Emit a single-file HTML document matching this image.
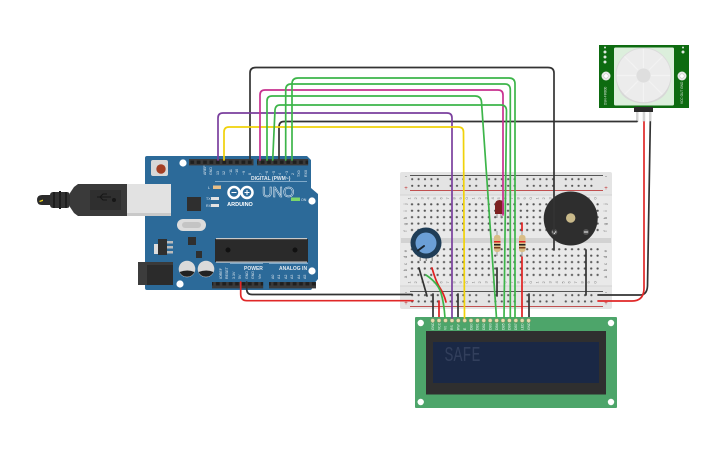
<!DOCTYPE html>
<html><head><meta charset="utf-8"><style>
html,body{margin:0;padding:0;background:#fff}
svg{display:block;font-family:"Liberation Sans",sans-serif}
.w{fill:none;stroke-width:1.7;stroke-linejoin:round;stroke-linecap:round}
</style></head><body>
<svg width="725" height="453" viewBox="0 0 725 453" xmlns="http://www.w3.org/2000/svg">
<defs>
<pattern id="main" patternUnits="userSpaceOnUse" x="408.8" y="201.1" width="6.4" height="6.42"><circle cx="3.2" cy="3.2" r="1.15" fill="#555"/></pattern>
<pattern id="rail" patternUnits="userSpaceOnUse" x="409" y="176" width="38.4" height="6.6"><g fill="#555"><circle cx="3.2" cy="3.2" r="1.1"/><circle cx="9.6" cy="3.2" r="1.1"/><circle cx="16" cy="3.2" r="1.1"/><circle cx="22.4" cy="3.2" r="1.1"/><circle cx="28.8" cy="3.2" r="1.1"/></g></pattern>
<pattern id="rail2" patternUnits="userSpaceOnUse" x="409" y="292" width="38.4" height="6.3"><g fill="#555"><circle cx="3.2" cy="3.2" r="1.1"/><circle cx="9.6" cy="3.2" r="1.1"/><circle cx="16" cy="3.2" r="1.1"/><circle cx="22.4" cy="3.2" r="1.1"/><circle cx="28.8" cy="3.2" r="1.1"/></g></pattern>
<pattern id="hdr" patternUnits="userSpaceOnUse" x="189" y="159" width="6.4" height="6.4"><rect width="6.4" height="6.4" fill="#3a3a3a"/><rect x="1.3" y="1.5" width="3.8" height="3.4" fill="#1f1f1f"/></pattern>
</defs>

<!-- USB plug -->
<path d="M37 200q0-5 5-5h8v10h-8q-5 0-5-5z" fill="#2b2b2b"/>
<path d="M39 201l4-1.5v1.5l-3 1z" fill="#e8d020"/>
<rect x="50" y="192" width="20" height="16" rx="3" fill="#333"/>
<rect x="53" y="192" width="2" height="16" fill="#1e1e1e"/><rect x="59" y="191" width="2" height="18" fill="#1e1e1e"/><rect x="65" y="192" width="2" height="16" fill="#1e1e1e"/>
<path d="M70 193l4-6 4-3h49v32H78l-4-3-4-6z" fill="#3a3a3a"/>
<rect x="90" y="190" width="31" height="20" fill="#2f2f2f"/>
<path d="M97 197h14M100 197l3-3h4M100 197l3 3h4" stroke="#171717" stroke-width="1" fill="none"/><circle cx="114" cy="200" r="2" fill="#171717"/>

<!-- Arduino board -->
<path d="M147 156H307l4 4V188l7 6V279l-6 7v2q0 2-2 2H147q-2 0-2-2V158q0-2 2-2z" fill="#2c6a99"/>
<rect x="127" y="184" width="44" height="32" fill="#e2e2e2"/><rect x="127" y="213" width="44" height="3" fill="#c9c9c9"/>
<rect x="151" y="160" width="17" height="16" rx="2" fill="#d8d8d8"/><circle cx="161" cy="169" r="4.7" fill="#a33f25"/>
<g fill="#fff"><circle cx="183" cy="163" r="3.6"/><circle cx="312" cy="201" r="3.6"/><circle cx="312" cy="271" r="3.6"/><circle cx="180" cy="284" r="3.6"/></g>
<rect x="189" y="159" width="64.5" height="6.4" fill="url(#hdr)"/>
<rect x="257" y="159" width="51.2" height="6.4" fill="url(#hdr)"/>
<rect x="212" y="282" width="51.2" height="6.4" fill="url(#hdr)"/>
<rect x="269" y="282" width="47" height="6.4" fill="url(#hdr)"/>
<rect x="187" y="197" width="14" height="14" fill="#2f2f2f"/>
<rect x="177" y="219" width="29" height="12" rx="6" fill="#dcdcdc"/><rect x="182" y="222" width="19" height="6" rx="3" fill="#c4c4c4"/>
<rect x="188" y="237" width="8" height="8" fill="#2f2f2f"/>
<rect x="154" y="244" width="6" height="10" fill="#ddd"/><rect x="158" y="239" width="9" height="16" fill="#2f2f2f"/><rect x="167" y="241" width="6" height="2.500" fill="#bbb"/><rect x="167" y="246" width="6" height="2.500" fill="#bbb"/><rect x="167" y="251" width="6" height="2.500" fill="#bbb"/>
<rect x="196" y="251" width="6" height="7" fill="#2f2f2f"/>
<rect x="215" y="239" width="93" height="23" fill="#2a2a2a"/>
<circle cx="228" cy="250" r="2.500" fill="#111"/><circle cx="295" cy="250" r="2.500" fill="#111"/>
<g fill="#c9c9c9"><rect x="216" y="238" width="91" height="1.200"/><rect x="216" y="261.500" width="91" height="1.200"/></g>
<rect x="138" y="262" width="35" height="23" fill="#2b2b2b"/><rect x="138" y="262" width="9" height="23" fill="#3c3c3c"/><rect x="147" y="262" width="26" height="3" fill="#3a3a3a"/>
<circle cx="187" cy="269" r="8.300" fill="#dadada"/><path d="M179.500 272a8.300 8.300 0 0 0 15 0q-7 -3 -15 0z" fill="#222"/>
<circle cx="206" cy="269" r="8.300" fill="#dadada"/><path d="M198.500 272a8.300 8.300 0 0 0 15 0q-7 -3 -15 0z" fill="#222"/>
<g stroke="#7fa9c9" stroke-width="1"><path d="M215 181.500H307M230 263.500H263M269 263.500H308"/></g>
<g fill="none" stroke="#fff" stroke-width="2.500"><circle cx="234" cy="192.500" r="5.500"/><circle cx="247" cy="192.500" r="5.500"/></g>
<path d="M231.500 192.500h5M244.500 192.500h5M247 190v5" stroke="#fff" stroke-width="1"/>
<text x="240" y="206" font-size="5.500" font-weight="700" fill="#fff" text-anchor="middle">ARDUINO</text>
<text x="262" y="197" font-size="14.500" fill="#2c6a99" stroke="#e6eef5" stroke-width=".5">UNO</text>
<text x="251" y="180" font-size="5" font-weight="700" fill="#e2e9ef">DIGITAL (PWM~)</text>
<text x="244" y="270" font-size="5" font-weight="700" fill="#e2e9ef">POWER</text>
<text x="279" y="270" font-size="5" font-weight="700" fill="#e2e9ef">ANALOG IN</text>
<rect x="213" y="185.500" width="8" height="3.500" fill="#e8c089"/>
<rect x="211" y="197" width="8" height="3" fill="#e2e2e2"/><rect x="211" y="204" width="8" height="3" fill="#e2e2e2"/>
<rect x="291" y="197.500" width="9" height="3.500" fill="#7cd66a"/>
<g font-size="3.600" fill="#e2e9ef"><text x="208" y="189">L</text><text x="206" y="200">TX</text><text x="206" y="207">RX</text><text x="301" y="201">ON</text></g>
<g font-size="3.600" fill="#dfe7ee" text-anchor="start">
<text transform="translate(206,175) rotate(-90)">AREF</text>
<text transform="translate(212,175) rotate(-90)">GND</text>
<text transform="translate(219,175) rotate(-90)">13</text>
<text transform="translate(225,175) rotate(-90)">12</text>
<text transform="translate(232,175) rotate(-90)">~11</text>
<text transform="translate(238,175) rotate(-90)">~10</text>
<text transform="translate(245,175) rotate(-90)">~9</text>
<text transform="translate(251,175) rotate(-90)">8</text>
<text transform="translate(262,175) rotate(-90)">7</text>
<text transform="translate(268,175) rotate(-90)">~6</text>
<text transform="translate(275,175) rotate(-90)">~5</text>
<text transform="translate(281,175) rotate(-90)">4</text>
<text transform="translate(288,175) rotate(-90)">~3</text>
<text transform="translate(294,175) rotate(-90)">2</text>
<text transform="translate(300,177) rotate(-90)">TX0</text>
<text transform="translate(307,177) rotate(-90)">RX0</text>
<text transform="translate(222,279) rotate(-90)">IOREF</text>
<text transform="translate(228,279) rotate(-90)">RESET</text>
<text transform="translate(235,279) rotate(-90)">3.3V</text>
<text transform="translate(241,279) rotate(-90)">5V</text>
<text transform="translate(248,279) rotate(-90)">GND</text>
<text transform="translate(254,279) rotate(-90)">GND</text>
<text transform="translate(261,279) rotate(-90)">Vin</text>
<text transform="translate(274,279) rotate(-90)">A0</text>
<text transform="translate(280,279) rotate(-90)">A1</text>
<text transform="translate(287,279) rotate(-90)">A2</text>
<text transform="translate(293,279) rotate(-90)">A3</text>
<text transform="translate(300,279) rotate(-90)">A4</text>
<text transform="translate(306,279) rotate(-90)">A5</text>
</g>

<!-- Breadboard -->
<rect x="400" y="172" width="212" height="137" rx="2" fill="#e4e4e4"/>
<rect x="400" y="195" width="212" height="91" fill="#e9e9e9"/>
<rect x="400" y="194.500" width="212" height="1" fill="#d4d4d4"/><rect x="400" y="285.500" width="212" height="1" fill="#d4d4d4"/>
<rect x="401" y="238" width="210" height="5" fill="#d2d2d2"/>
<path d="M410 175.500H603M410 291.500H603" stroke="#555" stroke-width="1"/>
<path d="M410 190.500H603M410 306.500H603" stroke="#c05050" stroke-width="1"/>
<rect x="409" y="176" width="192" height="13.200" fill="url(#rail)"/>
<rect x="409" y="292" width="192" height="12.600" fill="url(#rail2)"/>
<rect x="408.800" y="201.100" width="192" height="32.100" fill="url(#main)"/>
<rect x="408.800" y="247" width="192" height="32.100" fill="url(#main)"/>
<g font-size="4" fill="#7a7a7a">
<text x="410.500" y="199.500" rotate="-90" style="letter-spacing:4.180px">123456789012345678901234567890</text>
<text x="410.500" y="283.500" rotate="-90" style="letter-spacing:4.180px">123456789012345678901234567890</text>
</g>
<g font-size="4.500" fill="#777" text-anchor="middle">
<text transform="translate(407,204) rotate(-90)">j</text><text transform="translate(407,211) rotate(-90)">i</text><text transform="translate(407,218) rotate(-90)">h</text><text transform="translate(407,224) rotate(-90)">g</text><text transform="translate(407,231) rotate(-90)">f</text>
<text transform="translate(407,251) rotate(-90)">e</text><text transform="translate(407,257) rotate(-90)">d</text><text transform="translate(407,264) rotate(-90)">c</text><text transform="translate(407,270) rotate(-90)">b</text><text transform="translate(407,277) rotate(-90)">a</text>
<text transform="translate(607,204) rotate(-90)">j</text><text transform="translate(607,211) rotate(-90)">i</text><text transform="translate(607,218) rotate(-90)">h</text><text transform="translate(607,224) rotate(-90)">g</text><text transform="translate(607,231) rotate(-90)">f</text>
<text transform="translate(607,251) rotate(-90)">e</text><text transform="translate(607,257) rotate(-90)">d</text><text transform="translate(607,264) rotate(-90)">c</text><text transform="translate(607,270) rotate(-90)">b</text><text transform="translate(607,277) rotate(-90)">a</text>
</g>
<g font-size="6" fill="#c03030" text-anchor="middle"><text x="406" y="190">+</text><text x="606" y="190">+</text><text x="406" y="305">+</text><text x="606" y="305">+</text></g>
<g font-size="6" fill="#666" text-anchor="middle"><text x="406" y="178">-</text><text x="606" y="178">-</text><text x="406" y="294">-</text><text x="606" y="294">-</text></g>

<!-- Breadboard short wires -->
<path class="w" stroke="#333" d="M433 294V318M458 294V318M529 294V318M497 268V296M586 250V295M554 232V250"/>
<path class="w" stroke="#e02020" d="M439 301V318M522 257V318M522 223V231"/>
<path class="w" stroke="#333" d="M419 268L427 296"/>
<path class="w" stroke="#e02020" d="M432 268Q436 282 440 288T446 302"/>

<!-- Pot -->
<rect x="419.500" y="255" width="1.500" height="6" fill="#999"/><rect x="425.500" y="255" width="1.500" height="6" fill="#999"/><rect x="431.500" y="255" width="1.500" height="6" fill="#999"/>
<circle cx="426" cy="243" r="15.500" fill="#1f3d57"/><circle cx="426" cy="243" r="10.500" fill="#6b9fd6"/>
<path d="M418 250.500L424 246" stroke="#1a2530" stroke-width="2" stroke-linecap="round"/>

<!-- LED -->
<path d="M497 214v4M501 214v4" stroke="#999" stroke-width="1"/>
<path d="M495 205q0-5 4.500-5t4.500 5v9h-9z" fill="#7d2222"/>

<!-- Resistors -->
<path d="M497 231V256M522 231V256" stroke="#aaa" stroke-width="1.200"/>
<rect x="494" y="235" width="6.500" height="17" rx="2.500" fill="#d9bd86"/>
<rect x="494" y="241" width="6.500" height="1.500" fill="#d22"/><rect x="494" y="244" width="6.500" height="1.500" fill="#222"/><rect x="494" y="247" width="6.500" height="1.500" fill="#7a3d1a"/>
<rect x="519" y="235" width="6.500" height="17" rx="2.500" fill="#d9bd86"/>
<rect x="519" y="241" width="6.500" height="1.500" fill="#d22"/><rect x="519" y="244" width="6.500" height="1.500" fill="#222"/><rect x="519" y="247" width="6.500" height="1.500" fill="#7a3d1a"/>

<!-- Buzzer -->
<circle cx="570.700" cy="218.500" r="27" fill="#2e2e2e"/>
<circle cx="570.700" cy="218" r="4.700" fill="#c9b98a"/>
<circle cx="554.300" cy="232" r="3" fill="#555"/><circle cx="586" cy="232" r="3" fill="#555"/>
<path d="M552.300 232h4M554.300 230v4M584 232h4" stroke="#f2f2f2" stroke-width="1"/>

<!-- LCD -->
<rect x="415" y="317" width="202" height="91" rx="1" fill="#4da56a"/>
<g fill="#fff"><circle cx="420.700" cy="323" r="3.200"/><circle cx="611" cy="323" r="3.200"/><circle cx="420.700" cy="402" r="3.200"/><circle cx="611" cy="402" r="3.200"/></g>
<rect x="426" y="331" width="180" height="63.500" fill="#2f2f2f"/>
<rect x="433" y="342" width="166" height="41" fill="#1a2845"/>
<text transform="translate(444.500,361) scale(1,1.400)" font-size="15" fill="#323f5c" style="font-family:'Liberation Mono',monospace">SAFE</text>
<g fill="#e6dcae" stroke="#8a8a5a" stroke-width=".4">
<circle cx="432.700" cy="320.500" r="2"/><circle cx="439" cy="320.500" r="2"/><circle cx="445.500" cy="320.500" r="2"/><circle cx="452" cy="320.500" r="2"/><circle cx="458.300" cy="320.500" r="2"/><circle cx="464.700" cy="320.500" r="2"/><circle cx="471" cy="320.500" r="2"/><circle cx="477.500" cy="320.500" r="2"/><circle cx="483.800" cy="320.500" r="2"/><circle cx="490.200" cy="320.500" r="2"/><circle cx="496.600" cy="320.500" r="2"/><circle cx="503" cy="320.500" r="2"/><circle cx="509.400" cy="320.500" r="2"/><circle cx="515.800" cy="320.500" r="2"/><circle cx="522.200" cy="320.500" r="2"/><circle cx="528.600" cy="320.500" r="2"/>
</g>
<g font-size="3.400" fill="#e6f2ea">
<text transform="translate(434,330) rotate(-90)">GND</text><text transform="translate(440.300,330) rotate(-90)">VCC</text><text transform="translate(446.700,330) rotate(-90)">V0</text><text transform="translate(453,330) rotate(-90)">RS</text><text transform="translate(459.500,330) rotate(-90)">RW</text><text transform="translate(466,330) rotate(-90)">E</text><text transform="translate(472.300,330) rotate(-90)">DB0</text><text transform="translate(478.700,330) rotate(-90)">DB1</text><text transform="translate(485,330) rotate(-90)">DB2</text><text transform="translate(491.500,330) rotate(-90)">DB3</text><text transform="translate(497.900,330) rotate(-90)">DB4</text><text transform="translate(504.300,330) rotate(-90)">DB5</text><text transform="translate(510.700,330) rotate(-90)">DB6</text><text transform="translate(517,330) rotate(-90)">DB7</text><text transform="translate(523.500,330) rotate(-90)">LED</text><text transform="translate(530,330) rotate(-90)">GND</text>
</g>

<!-- PIR -->
<rect x="599" y="45" width="90" height="63" fill="#0d6b10"/>
<rect x="614" y="47.500" width="60" height="58" rx="1.500" fill="#dcefdc"/>
<circle cx="606" cy="76" r="4.500" fill="#e8e8e8"/><circle cx="606" cy="76" r="2.200" fill="#fff" stroke="#bbb" stroke-width=".5"/>
<circle cx="682" cy="76" r="4.500" fill="#e8e8e8"/><circle cx="682" cy="76" r="2.200" fill="#fff" stroke="#bbb" stroke-width=".5"/>
<g fill="#dfe8df"><circle cx="605" cy="47.500" r="1"/><circle cx="605" cy="52" r="1.500"/><circle cx="605" cy="57" r="1.500"/><circle cx="605" cy="62" r="1.500"/>
<circle cx="683" cy="47.500" r="1"/><circle cx="683" cy="52" r="1.500"/></g>
<g font-size="3.200" fill="#dfe8df"><text transform="translate(606.500,105) rotate(-90)">DSN-FIR800</text><text transform="translate(683,104) rotate(-90)">VCC OUT GND</text></g>
<circle cx="643.500" cy="75.500" r="27.500" fill="#ececec" stroke="#dcdcdc" stroke-width="1"/>
<path d="M643.500 49V68M643.500 83V102M617 75.500H636M651 75.500H670M624.500 56.500L638 70M649 81L662.500 94.500M662.500 56.500L649 70M638 81L624.500 94.500" stroke="#f3f3f3" stroke-width="1.200"/>
<circle cx="643.500" cy="75.500" r="7" fill="#dedede"/>
<path d="M616.500 80a27.500 27.500 0 0 0 54 0q-2 22-27 23.500q-25-1.500-27-23.500z" fill="#d8d8d8"/>
<rect x="634" y="107" width="19" height="5" fill="#2a2a2a"/>
<g fill="#d4d4d4"><rect x="636" y="112" width="2.500" height="10"/><rect x="642.700" y="112" width="2.500" height="10"/><rect x="649" y="112" width="2.500" height="10"/></g>

<!-- Long wires -->
<path class="w" stroke="#333" d="M650.300 122L647.500 286Q647 295 640 295H598"/>
<path class="w" stroke="#e02828" d="M644 122V288Q644 301 632 301H598"/>
<path class="w" stroke="#333" d="M554 232V73Q554 67.500 548 67.500H256Q250 67.500 250 73V160"/>
<path class="w" stroke="#333" d="M637 121.500H284Q279 121.500 279 127V160"/>
<path class="w" stroke="#7a3f9d" d="M218 160V118Q218 113 223 113H447Q452 113 452 118V318"/>
<path class="w" stroke="#f0d20a" d="M224 160V132Q224 127 229 127H458Q463.500 127 463.500 132L464.500 318"/>
<path class="w" stroke="#c8318f" d="M260 160V95Q260 90 265 90H498Q503 90 503 95V215"/>
<path class="w" stroke="#3db54a" d="M267 160V101Q267 96 272 96H475Q481 96 481.500 102L496.500 318"/>
<path class="w" stroke="#3db54a" d="M272.700 160L275 110Q275.500 105 280 105H501Q506.500 105 506.500 111L504 318"/>
<path class="w" stroke="#3db54a" d="M285.700 160V90Q285.700 84 291 84H505Q510.300 84 510.300 90V318"/>
<path class="w" stroke="#3db54a" d="M292 160V84Q292 78 298 78H509Q515 78 515 84V318"/>
<path class="w" stroke="#3db54a" d="M426 275Q438 283 441 293T445 318"/>
<path class="w" stroke="#333" d="M246.700 282V289Q246.700 294.500 252 294.500H412"/>
<path class="w" stroke="#e02828" d="M240.700 282V294Q240.700 300.700 247 300.700H413"/>
</svg>
</body></html>
